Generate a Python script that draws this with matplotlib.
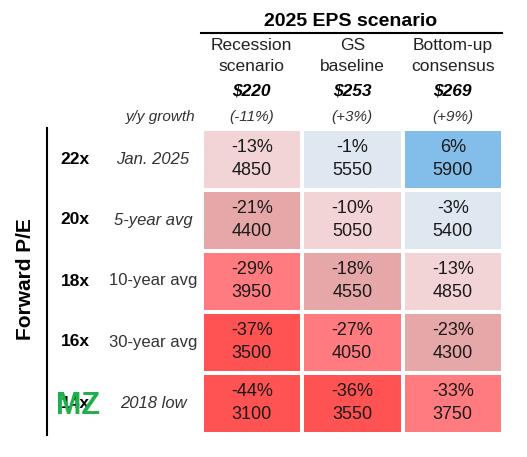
import numpy as np
import matplotlib
matplotlib.use("Agg")
import matplotlib.pyplot as plt
from matplotlib.colors import ListedColormap, BoundaryNorm
from matplotlib.transforms import blended_transform_factory

plt.rcParams['font.family'] = ['Liberation Sans', 'DejaVu Sans']

# data
scenarios = ["Recession\nscenario", "GS\nbaseline", "Bottom-up\nconsensus"]
eps = ["$220", "$253", "$269"]
eps_growth = ["(-11%)", "(+3%)", "(+9%)"]
pe_labels = ["22x", "20x", "18x", "16x", "14x"]
pe_notes = ["Jan. 2025", "5-year avg", "10-year avg", "30-year avg", "2018 low"]
note_italic = [True, True, False, False, True]
pct_change = np.array([
    [-13, -1, 6],
    [-21, -10, -3],
    [-29, -18, -13],
    [-37, -27, -23],
    [-44, -36, -33],
])
index_level = np.array([
    [4850, 5550, 5900],
    [4400, 5050, 5400],
    [3950, 4550, 4850],
    [3500, 4050, 4300],
    [3100, 3550, 3750],
])

# colour bins
bounds = [-60, -35, -25, -15, -5, 5, 30]
colors = ["#FF5252", "#FF7B7F", "#E6A7A8", "#F3D4D6", "#DFE7F1", "#83BDEA"]
cmap = ListedColormap(colors)
norm = BoundaryNorm(bounds, cmap.N)

W, H = 527, 457
fig = plt.figure(figsize=(W / 100, H / 100), dpi=100)


def fx(px):
    return px / W


def fy(py):
    return 1 - py / H


# heatmap
ax = fig.add_axes([fx(201.5), fy(433.5), (503 - 201.5) / W, (433.5 - 128.5) / H])
nr, nc = pct_change.shape
ax.pcolormesh(np.arange(nc + 1) - 0.5, np.arange(nr + 1) - 0.5, pct_change,
              cmap=cmap, norm=norm, edgecolors="white", linewidth=2.6)
ax.set_xlim(-0.5, nc - 0.5)
ax.set_ylim(nr - 0.5, -0.5)
ax.axis("off")

for i in range(nr):
    for j in range(nc):
        ax.text(j, i - 0.19, f"{pct_change[i, j]}%", ha="center", va="center",
                fontsize=13, color="#1a1a1a")
        ax.text(j, i + 0.19, f"{index_level[i, j]}", ha="center", va="center",
                fontsize=13, color="#1a1a1a")

# row labels
tr_row = blended_transform_factory(fig.transFigure, ax.transData)
for i in range(nr):
    ax.text(fx(75), i, pe_labels[i], transform=tr_row, ha="center", va="center",
            fontsize=12.5, fontweight="bold")
    ax.text(fx(153), i, pe_notes[i], transform=tr_row, ha="center", va="center",
            fontsize=12, style="italic" if note_italic[i] else "normal",
            color="#333333")

# column headers
tr_col = blended_transform_factory(ax.transData, fig.transFigure)
for j in range(nc):
    ax.text(j, fy(56), scenarios[j], transform=tr_col, ha="center", va="center",
            fontsize=12.5, linespacing=1.45, color="#222222")
    ax.text(j, fy(91), eps[j], transform=tr_col, ha="center", va="center",
            fontsize=12.5, fontweight="bold", style="italic")
    ax.text(j, fy(117), eps_growth[j], transform=tr_col, ha="center", va="center",
            fontsize=11, style="italic", color="#333333")

fig.text(fx(195), fy(117), "y/y growth", ha="right", va="center",
         fontsize=11, style="italic", color="#333333")
fig.text(fx(351), fy(21), "2025 EPS scenario", ha="center", va="center",
         fontsize=14, fontweight="bold")
fig.add_artist(plt.Line2D([fx(201), fx(502)], [fy(33), fy(33)],
                          color="black", linewidth=1.5))

# left axis label and rule
fig.add_artist(plt.Line2D([fx(47), fx(47)], [fy(128), fy(435)],
                          color="black", linewidth=1.5))
fig.text(fx(26), fy(279), "Forward P/E", rotation=90, ha="center", va="center",
         fontsize=15, fontweight="bold")

# watermark (overlaps the 14x label, as in the reference)
fig.text(fx(78), fy(406), "MZ", ha="center", va="center", fontsize=22,
         fontweight="bold", color="#1DB14B")

fig.savefig("out.png", dpi=100)
